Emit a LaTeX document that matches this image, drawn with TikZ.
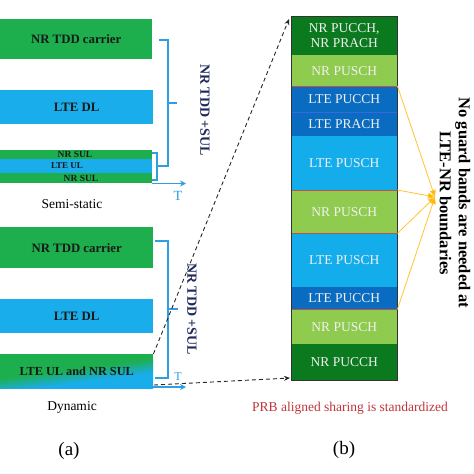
\documentclass[tikz,border=0pt]{standalone}
\usepackage{fontspec}
\setmainfont{Liberation Serif}
\usetikzlibrary{arrows.meta}
\definecolor{bargreen}{HTML}{1DAF4E}
\definecolor{barblue}{HTML}{1AADEB}
\definecolor{brk}{HTML}{2E9FE0}
\definecolor{navy}{HTML}{1F2A5C}
\definecolor{dkgreen}{HTML}{0B7A1E}
\definecolor{ltgreen}{HTML}{8FCB4E}
\definecolor{dkblue}{HTML}{0A6CC0}
\definecolor{ltblue}{HTML}{14ADEC}
\definecolor{gold}{HTML}{FFC52E}
\definecolor{goldtip}{HTML}{FFB300}
\definecolor{prbred}{HTML}{C0343A}
\definecolor{segred}{HTML}{C0504D}
\begin{document}
\begin{tikzpicture}[x=1pt,y=-1pt,
  bar/.style={rectangle,inner sep=0pt,anchor=north west,text=black!90,font=\fontsize{12.8}{14}\selectfont\bfseries},
  seg/.style={rectangle,inner sep=0pt,anchor=north west,minimum width=106pt,text=white!94!black,font=\fontsize{13.5}{15}\selectfont,align=center},
  brkt/.style={draw=brk,line width=1.6pt},
  tarrow/.style={draw=brk,line width=1.2pt,-{Stealth[length=6pt,width=6pt]}},
  lbl/.style={inner sep=0pt,font=\fontsize{13.5}{15}\selectfont},
  small/.style={inner sep=0pt,text=black!90,font=\fontsize{9.5}{10}\selectfont\bfseries},
  vlab/.style={inner sep=0pt,rotate=-90,text=navy,font=\fontsize{14}{16}\selectfont\bfseries},
  dasharrow/.style={draw=black!85,line width=0.9pt,dash pattern=on 4pt off 3pt,-{Stealth[length=6pt,width=5pt]}},
  yel/.style={draw=gold,line width=0.8pt,-{Triangle[length=7pt,width=6pt,fill=goldtip]}},
  redline/.style={draw=segred,line width=0.8pt},
]
\useasboundingbox (0,0) rectangle (474,474);

% ---------- (a) semi-static ----------
\node[bar,fill=bargreen,minimum width=152pt,minimum height=40pt] (b1) at (0,19) {NR TDD carrier};
\node[bar,fill=barblue,minimum width=153pt,minimum height=34pt] (b2) at (0,90) {LTE DL};
\node[bar,fill=bargreen,minimum width=152pt,minimum height=9pt] (b3) at (0,150) {};
\node[bar,fill=barblue,minimum width=152pt,minimum height=14pt] (b4) at (0,159) {};
\node[bar,fill=bargreen,minimum width=152pt,minimum height=10pt] (b5) at (0,173) {};
\node[small] (t3) at (75,154.5) {NR SUL};
\node[small,font=\fontsize{9}{10}\selectfont\bfseries] (t4) at (67,166) {LTE UL};
\node[small] (t5) at (81,178.5) {NR SUL};

\draw[brkt] (152,153) -- (157,153) -- (157,180) -- (152,180);
\draw[brkt] (157,166) -- (168,166) -- (168,40) -- (159,40);
\draw[brkt] (168,103) -- (177,103);
\coordinate (ta1) at (152,183.5);
\coordinate (tb1) at (186,183.5);
\draw[tarrow] (ta1) -- (tb1);
\node[lbl,text=brk,font=\fontsize{14}{14}\selectfont] (T1) at (178,196) {T};
\node[vlab] (lab1) at (205,110) {NR TDD +SUL};
\node[lbl] (semi) at (72,204) {Semi-static};

% ---------- (a) dynamic ----------
\node[bar,fill=bargreen,minimum width=153pt,minimum height=41pt] (b6) at (0,227) {NR TDD carrier};
\node[bar,fill=barblue,minimum width=153pt,minimum height=34pt] (b7) at (0,299) {LTE DL};
\begin{scope}
  \clip (0,354) rectangle (153,388);
  \fill[bargreen] (0,354) rectangle (153,388);
  \foreach \i in {0,...,13} {
    \pgfmathsetmacro\p{(\i+0.5)*100/14}
    \pgfmathsetmacro\oa{-7+\i}
    \pgfmathsetmacro\ob{-7+\i+1.4}
    \fill[barblue!\p!bargreen] (0,386+\oa) -- (153,366+\oa) -- (153,366+\ob) -- (0,386+\ob) -- cycle;
  }
  \fill[barblue] (0,393) -- (153,373) -- (153,400) -- (0,400) -- cycle;
\end{scope}
\node[bar,minimum width=153pt,minimum height=34pt,font=\fontsize{12.3}{14}\selectfont\bfseries] (b8) at (0,354) {LTE UL and NR SUL};

\draw[brkt] (155,241) -- (168,241) -- (168,378) -- (155,378);
\draw[brkt] (168,309) -- (178,309);
\coordinate (ta2) at (153,387);
\coordinate (tb2) at (186,387);
\draw[tarrow] (ta2) -- (tb2);
\node[lbl,text=brk,font=\fontsize{12}{12}\selectfont] (T2) at (178,377) {T};
\node[vlab] (lab2) at (192,309) {NR TDD +SUL};
\node[lbl] (dyn) at (72,407) {Dynamic};
\node[lbl,font=\fontsize{19}{20}\selectfont] (capa) at (69,451) {(a)};

% ---------- (b) column ----------
\node[seg,fill=dkgreen,minimum height=39pt] (s1) at (291,16) {NR PUCCH,\\NR PRACH};
\node[seg,fill=ltgreen,minimum height=31pt] (s2) at (291,55) {NR PUSCH};
\node[seg,fill=dkblue,minimum height=26pt] (s3) at (291,86) {LTE PUCCH};
\node[seg,fill=dkblue,minimum height=24pt] (s4) at (291,112) {LTE PRACH};
\node[seg,fill=ltblue,minimum height=54pt] (s5) at (291,136) {LTE PUSCH};
\node[seg,fill=ltgreen,minimum height=43pt] (s6) at (291,190) {NR PUSCH};
\node[seg,fill=ltblue,minimum height=54pt] (s7) at (291,233) {LTE PUSCH};
\node[seg,fill=dkblue,minimum height=22pt] (s8) at (291,287) {LTE PUCCH};
\node[seg,fill=ltgreen,minimum height=35pt] (s9) at (291,309) {NR PUSCH};
\node[seg,fill=dkgreen,minimum height=36pt] (s10) at (291,344) {NR PUCCH};
\draw[draw=blue!40!dkblue!80!white,line width=0.6pt] (s4.north west) -- (s4.north east);
\draw[redline] (s3.north west) -- (s3.north east);
\draw[redline] (s6.north west) -- (s6.north east);
\draw[redline] (s6.south west) -- (s6.south east);
\draw[redline] (s8.south west) -- (s8.south east);
\draw[draw=black!80,line width=0.8pt] (s1.north west) rectangle (s10.south east);

% dashed zoom lines
\coordinate (tgt1) at (289,19);
\coordinate (src2) at (154,385);
\coordinate (tgt2) at (290,378);
\draw[dasharrow] (b8.north east) -- (tgt1);
\draw[dasharrow] (src2) -- (tgt2);

% yellow arrows
\coordinate (conv) at (435,197);
\draw[yel] (s3.north east) -- (conv);
\draw[yel] (s6.north east) -- (conv);
\draw[yel] (s6.south east) -- (conv);
\draw[yel] (s8.south east) -- (conv);

\node[inner sep=0pt,rotate=-90,align=center,font=\fontsize{16.5}{19}\selectfont\bfseries] (nogb) at (455,203) {No guard bands are needed at\\LTE-NR boundaries};

\node[lbl,text=prbred] (prb) at (350,408) {PRB aligned sharing is standardized};
\node[lbl,font=\fontsize{19}{20}\selectfont] (capb) at (344,450) {(b)};
\end{tikzpicture}
\end{document}
